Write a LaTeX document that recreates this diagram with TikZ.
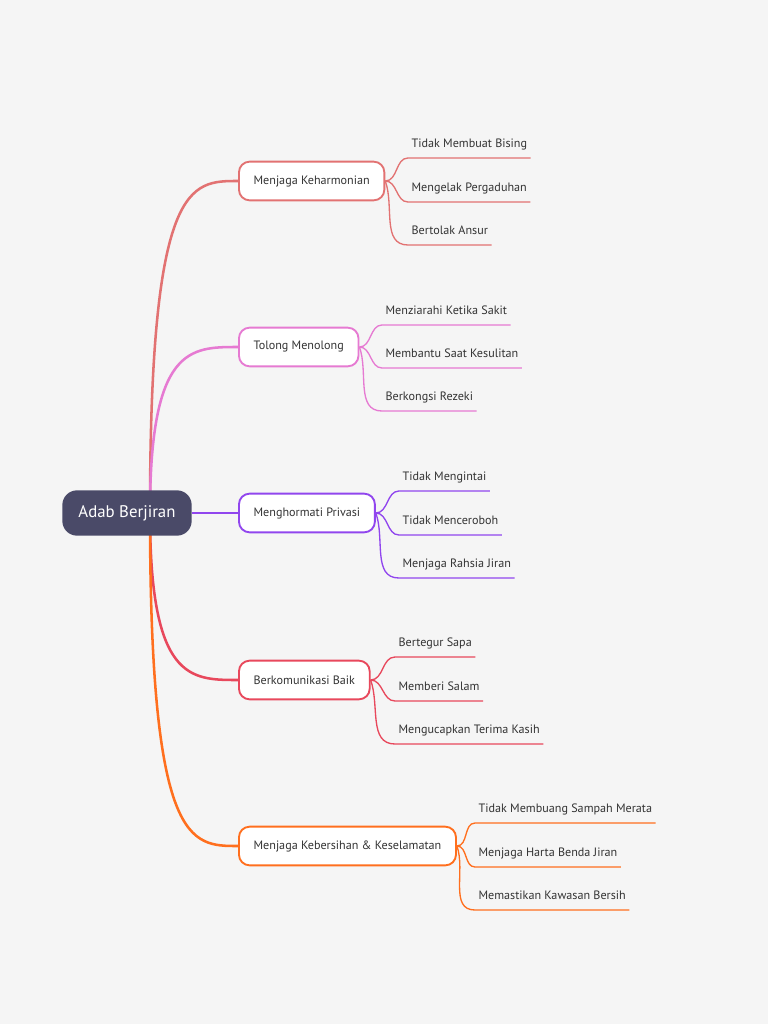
\documentclass[tikz,border=0pt]{standalone}
\usepackage{fontspec}
\setmainfont{PT Sans}
\usetikzlibrary{positioning}
\pgfdeclarelayer{bg}
\pgfsetlayers{bg,main}
\definecolor{bgcol}{HTML}{F5F5F5}
\definecolor{inkcol}{HTML}{333333}
\definecolor{rootcol}{HTML}{4A4A68}
\definecolor{cone}{HTML}{E27272}
\definecolor{ctwo}{HTML}{E67AD2}
\definecolor{cthree}{HTML}{9146EE}
\definecolor{cfour}{HTML}{E8485C}
\definecolor{cfive}{HTML}{FF6F1E}
\tikzset{
    rootbox/.style={fill=rootcol,rounded corners=11pt,minimum width=97pt,minimum height=34pt,text=white,font=\fontsize{12.6}{15}\selectfont},
    topic/.style={draw,line width=1.4pt,fill=white,rounded corners=8pt,minimum height=29pt,inner xsep=11pt,text=inkcol,font=\fontsize{9.1}{11}\selectfont},
    leaf/.style={anchor=south west,inner xsep=2.5pt,inner ysep=5pt,text height=7pt,text depth=2.5pt,text=inkcol,font=\fontsize{9.1}{11}\selectfont},
    trunk/.style={line width=1.9pt},
    twig/.style={line width=1pt},
}
\begin{document}
\begin{tikzpicture}[x=0.75pt,y=-0.75pt]
\useasboundingbox (0,0) rectangle (768,1024);
\begin{pgfonlayer}{bg}
    \fill[bgcol] (0,0) rectangle (768,1024);
\end{pgfonlayer}
% Central topic
    \node[rootbox] (root) at (127,513) {Adab Berjiran};
    \coordinate (hub) at (150,513);
% --- Main topics ---
    \node[topic,draw=cone,anchor=west] (harmoni) at (238,181) {Menjaga Keharmonian};
    \node[topic,draw=ctwo,anchor=west] (tolong) at (238,347) {Tolong Menolong};
    \node[topic,draw=cthree,anchor=west] (privasi) at (238,513) {Menghormati Privasi};
    \node[topic,draw=cfour,anchor=west] (komunikasi) at (238,680) {Berkomunikasi Baik};
    \node[topic,draw=cfive,anchor=west] (bersih) at (238,846) {Menjaga Kebersihan \& Keselamatan};
% --- Subtopics ---
    \node[leaf] (harmoni1) at (408,158) {Tidak Membuat Bising};
    \node[leaf] (harmoni2) at (408,202) {Mengelak Pergaduhan};
    \node[leaf] (harmoni3) at (408,245) {Bertolak Ansur};
    \node[leaf] (tolong1) at (382,325) {Menziarahi Ketika Sakit};
    \node[leaf] (tolong2) at (382,368) {Membantu Saat Kesulitan};
    \node[leaf] (tolong3) at (382,411) {Berkongsi Rezeki};
    \node[leaf] (privasi1) at (399,491) {Tidak Mengintai};
    \node[leaf] (privasi2) at (399,535) {Tidak Menceroboh};
    \node[leaf] (privasi3) at (399,578) {Menjaga Rahsia Jiran};
    \node[leaf] (komunikasi1) at (395,657) {Bertegur Sapa};
    \node[leaf] (komunikasi2) at (395,701) {Memberi Salam};
    \node[leaf] (komunikasi3) at (395,744) {Mengucapkan Terima Kasih};
    \node[leaf] (bersih1) at (475,823) {Tidak Membuang Sampah Merata};
    \node[leaf] (bersih2) at (475,867) {Menjaga Harta Benda Jiran};
    \node[leaf] (bersih3) at (475,910) {Memastikan Kawasan Bersih};
\begin{pgfonlayer}{bg}
% --- Branches from the centre ---
    \draw[trunk,cone] (hub) .. controls (150,181) and (190,181) .. (harmoni.west);
    \draw[trunk,ctwo] (hub) .. controls (150,347) and (190,347) .. (tolong.west);
    \draw[trunk,cthree] (root.east) -- (privasi.west);
    \draw[trunk,cfour] (hub) .. controls (150,680) and (190,680) .. (komunikasi.west);
    \draw[trunk,cfive] (hub) .. controls (150,846) and (190,846) .. (bersih.west);
% --- Twigs to subtopics ---
    \draw[twig,cone] (harmoni.east) to[out=0,in=180] (harmoni1.south west) -- (harmoni1.south east);
    \draw[twig,cone] (harmoni.east) to[out=0,in=180] (harmoni2.south west) -- (harmoni2.south east);
    \draw[twig,cone] (harmoni.east) to[out=-70,in=180] (harmoni3.south west) -- (harmoni3.south east);
    \draw[twig,ctwo] (tolong.east) to[out=0,in=180] (tolong1.south west) -- (tolong1.south east);
    \draw[twig,ctwo] (tolong.east) to[out=0,in=180] (tolong2.south west) -- (tolong2.south east);
    \draw[twig,ctwo] (tolong.east) to[out=-70,in=180] (tolong3.south west) -- (tolong3.south east);
    \draw[twig,cthree] (privasi.east) to[out=0,in=180] (privasi1.south west) -- (privasi1.south east);
    \draw[twig,cthree] (privasi.east) to[out=0,in=180] (privasi2.south west) -- (privasi2.south east);
    \draw[twig,cthree] (privasi.east) to[out=-70,in=180] (privasi3.south west) -- (privasi3.south east);
    \draw[twig,cfour] (komunikasi.east) to[out=0,in=180] (komunikasi1.south west) -- (komunikasi1.south east);
    \draw[twig,cfour] (komunikasi.east) to[out=0,in=180] (komunikasi2.south west) -- (komunikasi2.south east);
    \draw[twig,cfour] (komunikasi.east) to[out=-70,in=180] (komunikasi3.south west) -- (komunikasi3.south east);
    \draw[twig,cfive] (bersih.east) to[out=0,in=180] (bersih1.south west) -- (bersih1.south east);
    \draw[twig,cfive] (bersih.east) to[out=0,in=180] (bersih2.south west) -- (bersih2.south east);
    \draw[twig,cfive] (bersih.east) to[out=-70,in=180] (bersih3.south west) -- (bersih3.south east);
\end{pgfonlayer}
\end{tikzpicture}
\end{document}
